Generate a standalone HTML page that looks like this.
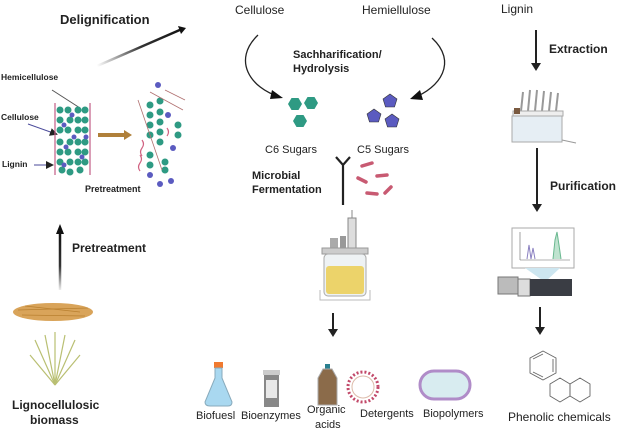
<!DOCTYPE html>
<html><head><meta charset="utf-8"><style>
html,body{margin:0;padding:0;background:#fff}
svg{display:block}
text{font-family:"Liberation Sans",sans-serif;fill:#222}
.b{font-weight:bold}
</style></head><body>
<svg width="620" height="432" viewBox="0 0 620 432" xmlns="http://www.w3.org/2000/svg">
<defs>
<marker id="ah" markerWidth="8" markerHeight="8" refX="6" refY="4" orient="auto" markerUnits="userSpaceOnUse"><path d="M0,0 L8,4 L0,8 z" fill="#222"/></marker>
<linearGradient id="dg" gradientUnits="userSpaceOnUse" x1="97" y1="66" x2="185" y2="28"><stop offset="0" stop-color="#fff"/><stop offset="0.5" stop-color="#333"/><stop offset="1" stop-color="#111"/></linearGradient>
<linearGradient id="vg" gradientUnits="userSpaceOnUse" x1="60" y1="290" x2="60" y2="230"><stop offset="0" stop-color="#eee"/><stop offset="0.4" stop-color="#333"/><stop offset="1" stop-color="#111"/></linearGradient>
<g id="hx"><polygon points="-7,0 -3.5,-6 3.5,-6 7,0 3.5,6 -3.5,6" fill="#2e9a83"/></g>
<g id="pt"><polygon points="0,-7 7,-2 4.5,6 -4.5,6 -7,-2" fill="#5b5bc0" stroke="#333" stroke-width="0.6"/></g>
</defs>

<text x="60" y="24" class="b" font-size="13">Delignification</text>
<path d="M97,66 L182,29" stroke="url(#dg)" stroke-width="2.5" fill="none"/>
<path d="M178,26 L186,28 L181,34 z" fill="#111"/>

<text x="1" y="80" class="b" font-size="8.5">Hemicellulose</text>
<text x="1" y="120" class="b" font-size="8.5">Cellulose</text>
<text x="2" y="167" class="b" font-size="8.5">Lignin</text>
<line x1="52" y1="90" x2="80" y2="108" stroke="#555"/>
<line x1="28" y1="124" x2="56" y2="134" stroke="#4a4a9a" marker-end="url(#ah)"/>
<line x1="34" y1="165" x2="52" y2="165" stroke="#4a4a9a" marker-end="url(#ah)"/>
<line x1="55" y1="103" x2="55" y2="175" stroke="#c25b86" stroke-width="1.2"/>
<line x1="90" y1="103" x2="90" y2="175" stroke="#c25b86" stroke-width="1.2"/>
<g fill="#2e9a83">
<circle cx="60" cy="110" r="3.5"/><circle cx="68" cy="110" r="3.5"/><circle cx="78" cy="110" r="3.5"/><circle cx="85" cy="110" r="3.5"/>
<circle cx="60" cy="120" r="3.5"/><circle cx="70" cy="120" r="3.5"/><circle cx="78" cy="120" r="3.5"/><circle cx="85" cy="120" r="3.5"/>
<circle cx="60" cy="130" r="3.5"/><circle cx="68" cy="130" r="3.5"/><circle cx="78" cy="130" r="3.5"/><circle cx="85" cy="130" r="3.5"/>
<circle cx="60" cy="142" r="3.5"/><circle cx="70" cy="142" r="3.5"/><circle cx="78" cy="142" r="3.5"/><circle cx="85" cy="142" r="3.5"/>
<circle cx="60" cy="152" r="3.5"/><circle cx="68" cy="152" r="3.5"/><circle cx="78" cy="152" r="3.5"/><circle cx="85" cy="152" r="3.5"/>
<circle cx="60" cy="162" r="3.5"/><circle cx="70" cy="162" r="3.5"/><circle cx="78" cy="162" r="3.5"/><circle cx="85" cy="162" r="3.5"/>
<circle cx="62" cy="170" r="3.5"/><circle cx="70" cy="172" r="3.5"/><circle cx="80" cy="170" r="3.5"/>
</g>
<g fill="#5b5bc0">
<circle cx="64" cy="125" r="2.5"/><circle cx="74" cy="137" r="2.5"/><circle cx="66" cy="147" r="2.5"/><circle cx="82" cy="157" r="2.5"/><circle cx="72" cy="115" r="2.5"/><circle cx="64" cy="165" r="2.5"/><circle cx="86" cy="137" r="2.5"/>
</g>
<path d="M98,135 L125,135" stroke="#b0803a" stroke-width="4"/>
<path d="M124,130 L132,135 L124,140 z" fill="#b0803a"/>
<g fill="#2e9a83">
<circle cx="150" cy="105" r="3.5"/><circle cx="150" cy="115" r="3.5"/><circle cx="150" cy="125" r="3.5"/><circle cx="150" cy="135" r="3.5"/><circle cx="160" cy="101" r="3.5"/><circle cx="160" cy="112" r="3.5"/><circle cx="160" cy="122" r="3.5"/><circle cx="160" cy="132" r="3.5"/><circle cx="160" cy="142" r="3.5"/><circle cx="150" cy="155" r="3.5"/><circle cx="150" cy="165" r="3.5"/><circle cx="165" cy="162" r="3.5"/><circle cx="165" cy="170" r="3.5"/><circle cx="178" cy="125" r="3.5"/><circle cx="178" cy="135" r="3.5"/>
</g>
<g fill="#5b5bc0"><circle cx="158" cy="85" r="3"/><circle cx="168" cy="115" r="3"/><circle cx="173" cy="148" r="3"/><circle cx="150" cy="175" r="3"/><circle cx="160" cy="184" r="3"/><circle cx="171" cy="181" r="3"/></g>
<g stroke="#b07070" fill="none" stroke-width="0.8"><path d="M138,100 L162,170"/><path d="M150,92 L183,110"/><path d="M165,90 L185,100"/></g>
<g stroke="#d06080" fill="none" stroke-width="1.2"><path d="M142,140 q3,4 0,8 q-3,4 0,8"/><path d="M167,128 q3,4 0,8"/><path d="M140,155 q3,4 0,8 q-3,4 0,8"/></g>
<text x="85" y="192" class="b" font-size="9">Pretreatment</text>

<path d="M60,290 L60,232" stroke="url(#vg)" stroke-width="2.5"/>
<path d="M56,234 L60,224 L64,234 z" fill="#111"/>
<text x="72" y="252" class="b" font-size="12">Pretreatment</text>
<ellipse cx="53" cy="312" rx="40" ry="9" fill="#d9a45a"/>
<g stroke="#b98030" stroke-width="0.7"><path d="M18,310 L88,308"/><path d="M22,315 L85,316"/><path d="M25,306 L80,312"/></g>
<g stroke="#b9bf72" stroke-width="1.2" fill="none">
<path d="M55,385 L35,340"/><path d="M55,385 L45,335"/><path d="M55,385 L55,332"/><path d="M55,385 L65,335"/><path d="M55,385 L75,340"/><path d="M55,385 L30,355"/><path d="M55,385 L80,355"/>
</g>
<text x="12" y="409" class="b" font-size="12">Lignocellulosic</text>
<text x="30" y="424" class="b" font-size="12">biomass</text>

<text x="235" y="14" font-size="12">Cellulose</text>
<text x="362" y="14" font-size="12">Hemiellulose</text>
<path d="M258,35 C232,60 250,88 280,97" stroke="#222" stroke-width="1.3" fill="none"/>
<path d="M272,90 L283,98 L270,99 z" fill="#111"/>
<path d="M432,38 C458,62 440,88 413,98" stroke="#222" stroke-width="1.3" fill="none"/>
<path d="M420,90 L410,99 L423,100 z" fill="#111"/>
<text x="293" y="58" class="b" font-size="11">Sachharification/</text>
<text x="293" y="72" class="b" font-size="11">Hydrolysis</text>
<use href="#hx" x="295" y="104"/><use href="#hx" x="311" y="103"/><use href="#hx" x="300" y="121"/>
<use href="#pt" x="390" y="101"/><use href="#pt" x="374" y="116"/><use href="#pt" x="392" y="121"/>
<text x="265" y="153" font-size="11">C6 Sugars</text>
<text x="357" y="153" font-size="11">C5 Sugars</text>
<text x="252" y="179" class="b" font-size="11">Microbial</text>
<text x="252" y="193" class="b" font-size="11">Fermentation</text>
<path d="M336,157 L343,165 L350,157 M343,165 L343,205" stroke="#222" stroke-width="2.2" fill="none"/>
<g stroke="#c85a72" stroke-width="3.5" stroke-linecap="round"><path d="M362,166 L372,163"/><path d="M358,178 L366,182"/><path d="M377,176 L387,175"/><path d="M367,193 L377,194"/><path d="M385,193 L391,187"/></g>

<rect x="348" y="218" width="8" height="30" fill="#ddd" stroke="#888"/>
<line x1="352" y1="210" x2="352" y2="218" stroke="#888"/>
<rect x="330" y="238" width="8" height="12" fill="#aaa"/><rect x="340" y="236" width="6" height="14" fill="#999"/>
<rect x="322" y="248" width="46" height="6" fill="#ccc" stroke="#999"/>
<rect x="324" y="254" width="42" height="42" rx="4" fill="#eef2f4" stroke="#aaa"/>
<rect x="326" y="266" width="38" height="28" rx="3" fill="#ecd36a"/>
<path d="M320,290 L320,300 L370,300 L370,290" stroke="#bbb" fill="none"/>

<path d="M333,313 L333,330" stroke="#222" stroke-width="2"/>
<path d="M328,329 L333,337 L338,329 z" fill="#222"/>

<rect x="214" y="362" width="9" height="6" fill="#f07a30"/>
<path d="M215,368 L215,378 L205,402 Q205,406 210,406 L228,406 Q232,406 232,402 L222,378 L222,368 z" fill="#a9d8f0" stroke="#8ab"/>
<rect x="263" y="370" width="17" height="5" fill="#ccc"/>
<rect x="264" y="375" width="15" height="32" fill="#888"/>
<rect x="266" y="380" width="11" height="18" fill="#e8e8e8"/>
<rect x="325" y="364" width="5" height="5" fill="#2a8090"/>
<path d="M323,369 L332,369 L337,378 L337,405 L318,405 L318,378 z" fill="#8b6b4a" stroke="#aaa"/>
<circle cx="363" cy="387" r="15" fill="none" stroke="#c24a6a" stroke-width="3" stroke-dasharray="2 2"/>
<circle cx="363" cy="387" r="11" fill="none" stroke="#dba" stroke-width="1"/>
<rect x="420" y="371" width="50" height="28" rx="14" fill="#d8ecf0" stroke="#b08cc8" stroke-width="3"/>
<text x="196" y="419" font-size="11">Biofuesl</text>
<text x="241" y="419" font-size="11">Bioenzymes</text>
<text x="307" y="413" font-size="11">Organic</text>
<text x="315" y="428" font-size="11">acids</text>
<text x="360" y="417" font-size="11">Detergents</text>
<text x="423" y="417" font-size="11">Biopolymers</text>

<text x="501" y="13" font-size="12">Lignin</text>
<path d="M536,30 L536,64" stroke="#222" stroke-width="2"/>
<path d="M531,63 L536,71 L541,63 z" fill="#222"/>
<text x="549" y="53" class="b" font-size="12">Extraction</text>
<g stroke="#999" stroke-width="2"><line x1="521" y1="111" x2="523" y2="92"/><line x1="528" y1="111" x2="530" y2="90"/><line x1="535" y1="111" x2="537" y2="90"/><line x1="542" y1="111" x2="544" y2="91"/><line x1="549" y1="111" x2="551" y2="92"/><line x1="556" y1="111" x2="558" y2="93"/></g>
<rect x="513" y="111" width="50" height="5" fill="#eee" stroke="#aaa"/>
<rect x="512" y="116" width="50" height="26" fill="#e6eef4" stroke="#aaa"/>
<rect x="514" y="108" width="6" height="6" fill="#7a5a40"/>
<line x1="562" y1="140" x2="576" y2="143" stroke="#999"/>
<path d="M537,148 L537,205" stroke="#222" stroke-width="2"/>
<path d="M532,204 L537,212 L542,204 z" fill="#222"/>
<text x="550" y="190" class="b" font-size="12">Purification</text>
<rect x="512" y="228" width="62" height="40" fill="#fff" stroke="#aaa"/>
<path d="M520,260 L570,260 M520,232 L520,260" stroke="#666" stroke-width="0.6"/>
<path d="M527,259 L529,245 L531,259 L533,248 L535,259" stroke="#8a80c0" fill="none"/>
<path d="M553,259 L555,240 L557,232 L559,245 L561,259" stroke="#6ab890" fill="#bfe3cf"/>
<path d="M525,268 L560,268 L545,282 Z" fill="#cde6f0"/>
<rect x="498" y="277" width="20" height="17" fill="#bbb" stroke="#777"/>
<rect x="518" y="279" width="12" height="17" fill="#ddd" stroke="#777"/>
<rect x="530" y="279" width="42" height="17" fill="#3a3d44"/>
<path d="M540,307 L540,328" stroke="#222" stroke-width="2"/>
<path d="M535,327 L540,335 L545,327 z" fill="#222"/>
<g fill="none" stroke="#666" stroke-width="0.9">
<polygon points="543,351 556,358 556,373 543,380 530,373 530,358"/>
<line x1="533" y1="359" x2="543" y2="354"/><line x1="553" y1="359" x2="553" y2="372"/><line x1="533" y1="372" x2="543" y2="377"/>
<polygon points="560,378 570,384 570,396 560,402 550,396 550,384"/>
<polygon points="580,378 590,384 590,396 580,402 570,396 570,384"/>
</g>
<text x="508" y="421" font-size="12">Phenolic chemicals</text>
</svg>
</body></html>
